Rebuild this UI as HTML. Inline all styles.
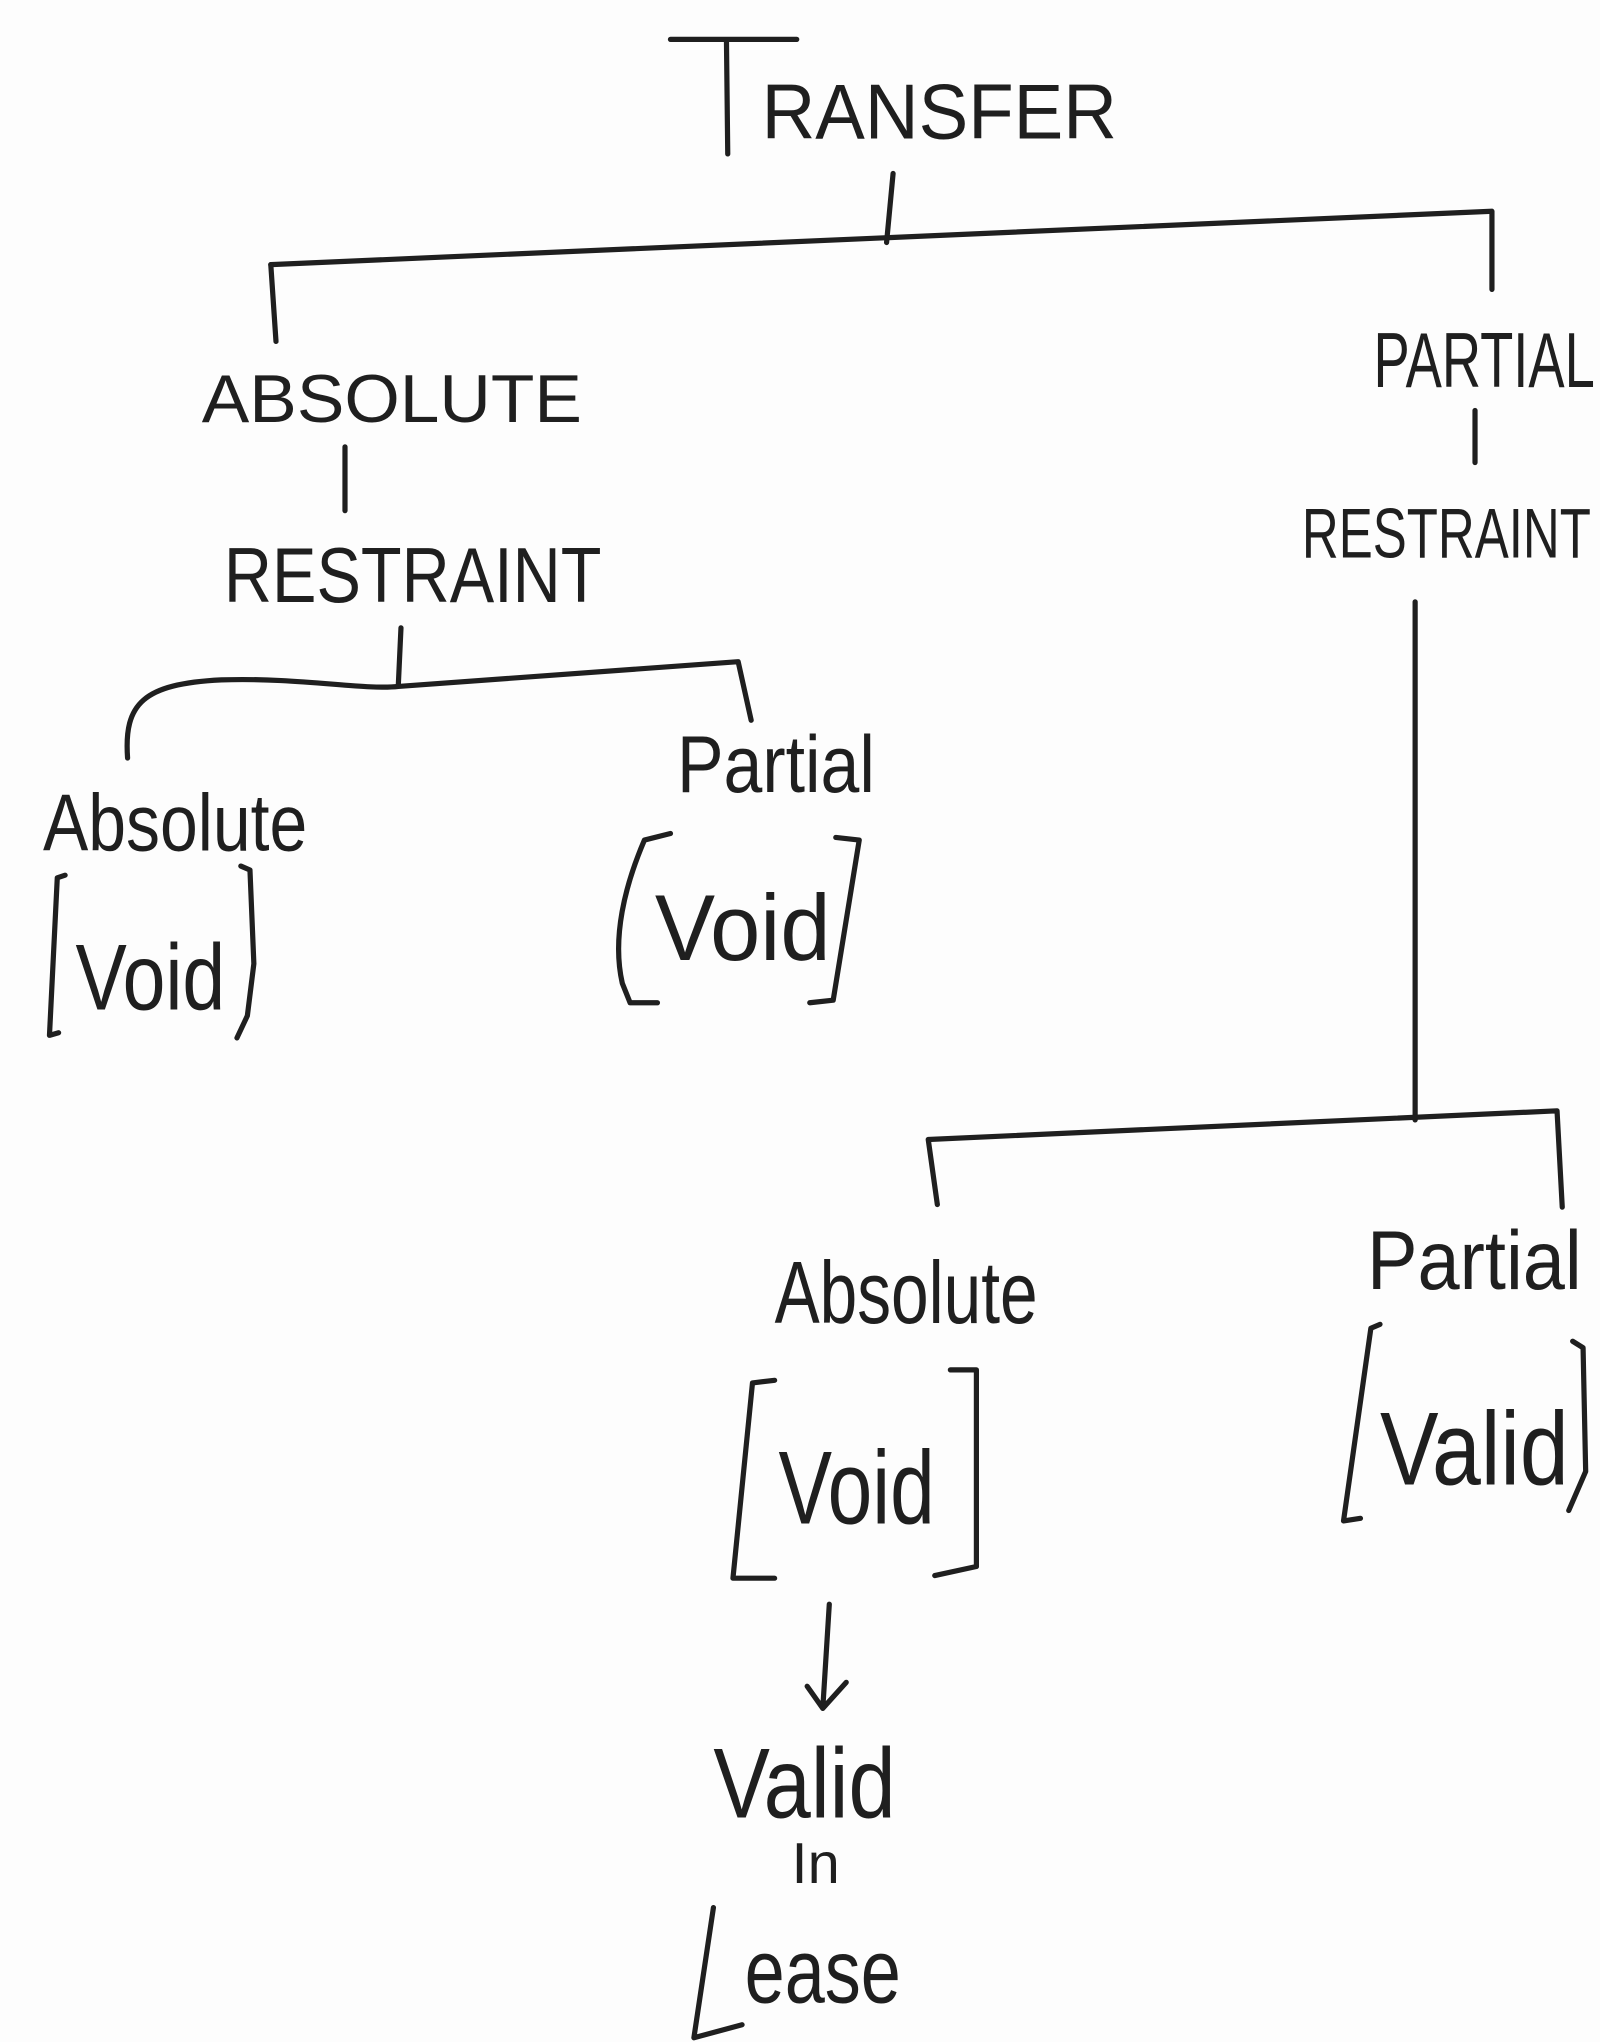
<!DOCTYPE html>
<html><head><meta charset="utf-8"><style>
html,body{margin:0;padding:0;background:#fdfdfd;}
svg{display:block;}
text{font-family:"Liberation Sans",sans-serif;fill:#1f1f1f;}
</style></head><body>
<svg width="1600" height="2042" viewBox="0 0 1229 1568" xmlns="http://www.w3.org/2000/svg">
<rect width="1229" height="1568" fill="#fdfdfd"/>
<g stroke="#1f1f1f" stroke-width="4" fill="none" stroke-linecap="round" stroke-linejoin="round">
<!-- T of TRANSFER -->
<path d="M515 30 L612 30 M558 30 L559 118"/>
<!-- top tree -->
<path d="M686 133 L681 186"/>
<path d="M208 203 L1146 162 L1146 222"/>
<path d="M208 203 L212 262"/>
<path d="M1133 315 L1133 355"/>
<path d="M1087 462 L1087 860"/>
<path d="M720 925 L713 875 L1196 853 L1200 927"/>
<!-- left -->
<path d="M265 343 L265 392"/>
<path d="M308 482 L306 525"/>
<path d="M98 582 C95 540 110 525 170 522 C230 520 280 530 306 527 L567 508 L577 553"/>
<!-- brackets -->
<path d="M50 672 L44 674 L38 795 L45 793"/>
<path d="M185 665 L192 668 L195 740 L190 780 L182 797"/>
<path d="M515 640 L495 645 C480 680 470 720 478 755 L484 770 L505 770"/>
<path d="M642 643 L660 645 L640 768 L622 770"/>
<path d="M595 1060 L578 1062 L563 1212 L595 1212"/>
<path d="M718 1210 L750 1203 L750 1052 L730 1052"/>
<path d="M1060 1017 L1053 1020 L1032 1168 L1045 1166"/>
<path d="M1208 1030 L1216 1035 L1218 1130 L1205 1160"/>
<!-- arrow -->
<path d="M637 1232 L632 1312 M620 1295 L632 1312 L650 1292"/>
<!-- Lease L -->
<path d="M548 1465 L533 1565 L570 1555"/>
</g>
<text x="585" y="106" font-size="60" textLength="273" lengthAdjust="spacingAndGlyphs">RANSFER</text>
<text x="1055" y="297" font-size="60" textLength="170" lengthAdjust="spacingAndGlyphs">PARTIAL</text>
<text x="1000" y="428" font-size="54" textLength="222" lengthAdjust="spacingAndGlyphs">RESTRAINT</text>
<text x="155" y="324" font-size="52" textLength="292" lengthAdjust="spacingAndGlyphs">ABSOLUTE</text>
<text x="172" y="462" font-size="60" textLength="290" lengthAdjust="spacingAndGlyphs">RESTRAINT</text>
<text x="33" y="653" font-size="62" textLength="203" lengthAdjust="spacingAndGlyphs">Absolute</text>
<text x="58" y="775" font-size="72" textLength="115" lengthAdjust="spacingAndGlyphs">Void</text>
<text x="520" y="608" font-size="62" textLength="152" lengthAdjust="spacingAndGlyphs">Partial</text>
<text x="503" y="737" font-size="72" textLength="135" lengthAdjust="spacingAndGlyphs">Void</text>
<text x="595" y="1016" font-size="68" textLength="202" lengthAdjust="spacingAndGlyphs">Absolute</text>
<text x="598" y="1170" font-size="80" textLength="120" lengthAdjust="spacingAndGlyphs">Void</text>
<text x="1050" y="990" font-size="64" textLength="165" lengthAdjust="spacingAndGlyphs">Partial</text>
<text x="1060" y="1140" font-size="80" textLength="145" lengthAdjust="spacingAndGlyphs">Valid</text>
<text x="548" y="1396" font-size="76" textLength="140" lengthAdjust="spacingAndGlyphs">Valid</text>
<text x="608" y="1446" font-size="44" textLength="37" lengthAdjust="spacingAndGlyphs">In</text>
<text x="572" y="1538" font-size="70" textLength="120" lengthAdjust="spacingAndGlyphs">ease</text>
</svg>
</body></html>
